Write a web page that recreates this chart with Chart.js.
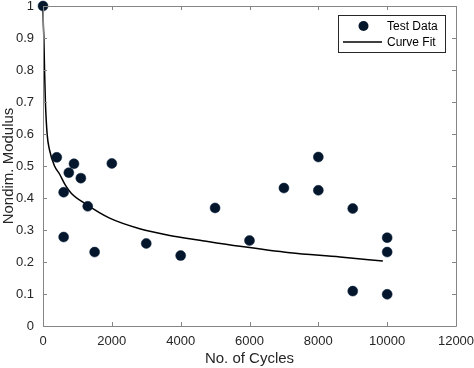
<!DOCTYPE html>
<html>
<head>
<meta charset="utf-8">
<script src="https://cdn.jsdelivr.net/npm/chart.js@4.4.0/dist/chart.umd.min.js"></script>
<style>
  html, body { margin: 0; padding: 0; background: #fff; }
  canvas { display: block; }
</style>
</head>
<body>
<canvas id="modulusChart" width="474" height="368"></canvas>
<script>
// test data
const testCycles = [0, 400, 600, 600, 750, 900, 1100, 1300, 1500, 2000, 3000, 4000, 5000, 6000, 7000, 8000, 8000, 9000, 9000, 10000, 10000, 10000];
const testModulus = [1, 0.527, 0.418, 0.278, 0.479, 0.507, 0.462, 0.374, 0.231, 0.508, 0.258, 0.22, 0.369, 0.267, 0.431, 0.528, 0.424, 0.367, 0.109, 0.276, 0.231, 0.099];

// fitted curve, sampled off the figure
const fitCycles = [0, 8, 25, 45, 70, 120, 190, 335, 480, 650, 820, 1258, 1936, 2809, 3683, 4556, 5721, 7176, 8632, 9875];
const fitModulus = [1, 0.95, 0.9, 0.8, 0.7, 0.6, 0.55, 0.5, 0.475, 0.44, 0.415, 0.38, 0.337, 0.304, 0.283, 0.268, 0.249, 0.229, 0.216, 0.203];

const xTicks = [0, 2000, 4000, 6000, 8000, 10000, 12000];
const yTicks = [0, 0.1, 0.2, 0.3, 0.4, 0.5, 0.6, 0.7, 0.8, 0.9, 1];

const FONT = "'Liberation Sans', Arial, sans-serif";
const TEXT = '#262626';
const AXIS = '#858585';
const MARKER = '#04162b';

// MATLAB-like box: frame + inward tick marks on all four sides
const boxPlugin = {
  id: 'box',
  afterDatasetsDraw(chart) {
    const { ctx, chartArea: a, scales } = chart;
    const len = 4;
    ctx.save();
    ctx.strokeStyle = AXIS;
    ctx.lineWidth = 1;
    ctx.beginPath();
    ctx.rect(Math.round(a.left) + 0.5, Math.round(a.top) + 0.5, Math.round(a.right - a.left), Math.round(a.bottom - a.top));
    xTicks.forEach(v => {
      const px = Math.round(scales.x.getPixelForValue(v)) + 0.5;
      ctx.moveTo(px, a.bottom); ctx.lineTo(px, a.bottom - len);
      ctx.moveTo(px, a.top); ctx.lineTo(px, a.top + len);
    });
    yTicks.forEach(v => {
      const py = Math.round(scales.y.getPixelForValue(v)) + 0.5;
      ctx.moveTo(a.left, py); ctx.lineTo(a.left + len, py);
      ctx.moveTo(a.right, py); ctx.lineTo(a.right - len, py);
    });
    ctx.stroke();
    ctx.restore();
  }
};

// legend box inside the plot, top right
const legendPlugin = {
  id: 'boxLegend',
  afterDraw(chart) {
    const { ctx } = chart;
    const ds = chart.data.datasets;
    const bx = 338.5, by = 15.5, bw = 107, bh = 37;
    ctx.save();
    ctx.fillStyle = '#fff';
    ctx.fillRect(bx, by, bw, bh);
    ctx.strokeStyle = TEXT;
    ctx.lineWidth = 1;
    ctx.strokeRect(bx, by, bw, bh);

    ctx.fillStyle = MARKER;
    ctx.beginPath();
    ctx.arc(363.5, 26, 5, 0, Math.PI * 2);
    ctx.fill();

    ctx.strokeStyle = '#000';
    ctx.lineWidth = 1.5;
    ctx.beginPath();
    ctx.moveTo(343, 42);
    ctx.lineTo(382, 42);
    ctx.stroke();

    ctx.fillStyle = '#000';
    ctx.font = '12px ' + FONT;
    ctx.textBaseline = 'middle';
    ctx.fillText(ds[0].label, 387, 26.5);
    ctx.fillText(ds[1].label, 387, 42.5);
    ctx.restore();
  }
};

new Chart(document.getElementById('modulusChart'), {
  data: {
    datasets: [
      {
        type: 'scatter',
        label: 'Test Data',
        data: testCycles.map((x, i) => ({ x, y: testModulus[i] })),
        pointRadius: 5,
        pointBackgroundColor: MARKER,
        pointBorderColor: '#0c2440',
        pointBorderWidth: 0.5,
        clip: false,
        order: 0
      },
      {
        type: 'line',
        label: 'Curve Fit',
        data: fitCycles.map((x, i) => ({ x, y: fitModulus[i] })),
        borderColor: '#000',
        borderWidth: 1.5,
        pointRadius: 0,
        cubicInterpolationMode: 'monotone',
        fill: false,
        clip: false,
        order: 1
      }
    ]
  },
  options: {
    responsive: false,
    animation: false,
    events: [],
    layout: { padding: { top: 6, right: 18, left: 0, bottom: 0 } },
    plugins: { legend: { display: false }, tooltip: { enabled: false } },
    scales: {
      x: {
        type: 'linear',
        min: 0,
        max: 12000,
        afterFit: s => { s.height = 42; s.paddingLeft = 0; s.paddingRight = 0; },
        afterBuildTicks: s => { s.ticks = xTicks.map(v => ({ value: v })); },
        grid: { display: false, drawTicks: false },
        border: { display: false },
        ticks: { padding: 8, color: TEXT, font: { family: FONT, size: 13 }, maxRotation: 0, autoSkip: false, callback: v => String(v) },
        title: { display: true, text: 'No. of Cycles', color: TEXT, font: { family: FONT, size: 15 }, padding: { top: 0, bottom: 0 } }
      },
      y: {
        type: 'linear',
        min: 0,
        max: 1,
        afterFit: s => { s.width = 43; s.paddingTop = 0; s.paddingBottom = 0; },
        afterBuildTicks: s => { s.ticks = yTicks.map(v => ({ value: v })); },
        grid: { display: false, drawTicks: false },
        border: { display: false },
        ticks: { padding: 9, color: TEXT, font: { family: FONT, size: 13 }, autoSkip: false, callback: v => String(v) },
        title: { display: true, text: 'Nondim. Modulus', color: TEXT, font: { family: FONT, size: 15 }, padding: { top: 0, bottom: 0 } }
      }
    }
  },
  plugins: [boxPlugin, legendPlugin]
});
</script>
</body>
</html>
